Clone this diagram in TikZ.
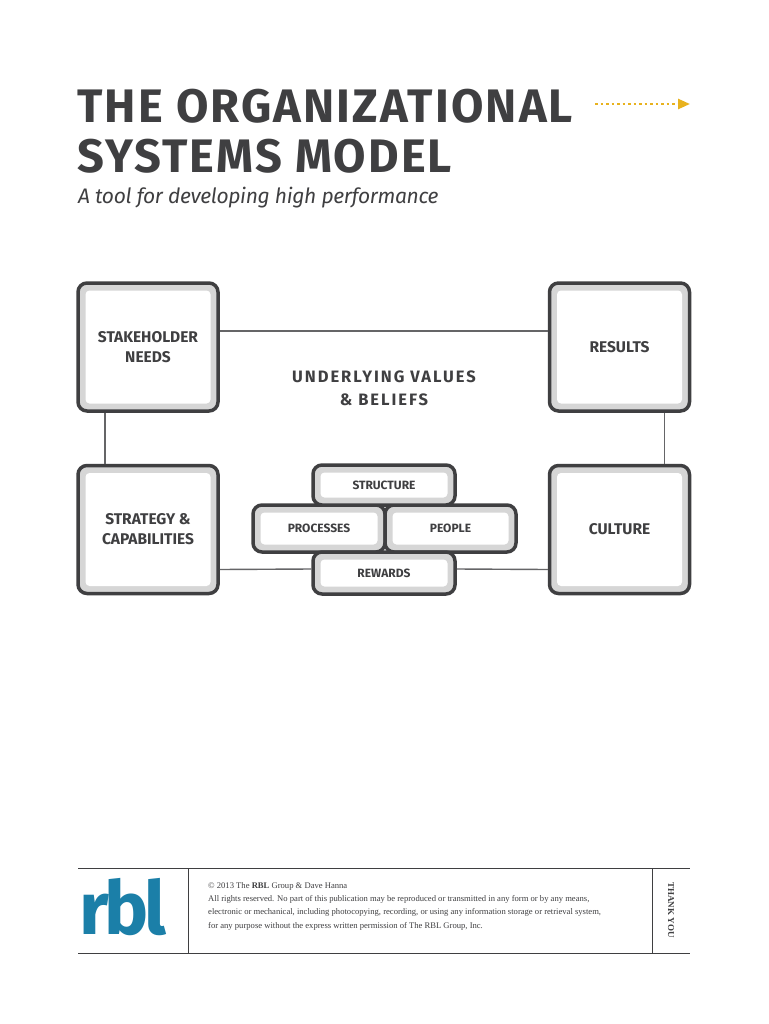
\documentclass[tikz,border=0pt]{standalone}
\usepackage{fontspec}
\setmainfont{Fira Sans}
\newfontfamily\serifft{Liberation Serif}
\usetikzlibrary{arrows.meta}
\definecolor{dk}{HTML}{3F3F41}
\definecolor{band}{HTML}{D6D6D6}
\definecolor{gold}{HTML}{E8B21E}
\definecolor{rblblue}{HTML}{1B7FA8}
\tikzset{
  outerbox/.style={draw=dk, line width=3.5pt, fill=band, rounded corners=9pt, inner sep=0pt},
  innerbox/.style={fill=white, rounded corners=4pt, inner sep=0pt, align=center, text=dk,
    font=\bfseries\fontsize{15.5}{20}\selectfont},
  smallinner/.style={innerbox, font=\bfseries\fontsize{12}{14}\selectfont},
  conn/.style={draw=dk!80, line width=1.4pt},
}
\newcommand\mybox[7]{% name, x, y, w, h, style, text
  \node[outerbox, minimum width=#4, minimum height=#5] (#1) at (#2,#3) {};
  \node[#6, minimum width=#4-15, minimum height=#5-15] (#1in) at (#2,#3) {#7};
}
\begin{document}
\begin{tikzpicture}[x=1pt,y=-1pt]
\useasboundingbox (0,0) rectangle (768,1024);
\fill[white] (0,0) rectangle (768,1024);
% title
\node[anchor=base west, inner sep=0pt, text=dk] (t1) at (77,123) {\fontsize{47}{47}\selectfont\bfseries\addfontfeatures{LetterSpace=4.5}THE ORGANIZATIONAL};
\node[anchor=base west, inner sep=0pt, text=dk] (t2) at (77,173) {\fontsize{47}{47}\selectfont\bfseries\addfontfeatures{LetterSpace=4.5}SYSTEMS MODEL};
\node[anchor=base west, inner sep=0pt, text=dk] (sub) at (78,204) {\fontsize{21}{21}\selectfont\itshape\addfontfeatures{LetterSpace=-1.5}A tool for developing high performance};
\coordinate (a1) at (595,104);
\coordinate (a2) at (690,104);
\draw[gold, line width=2.5pt, dash pattern=on 2.5pt off 3pt, -{Triangle[length=12pt,width=10pt]}] (a1) -- (a2);
% boxes
\mybox{sn}{148}{347}{140}{128}{innerbox}{STAKEHOLDER\\NEEDS}
\mybox{res}{619.5}{347}{140}{128}{innerbox}{RESULTS}
\mybox{str}{148}{529.5}{140}{128}{innerbox}{STRATEGY \&\\CAPABILITIES}
\mybox{cul}{619.5}{529.5}{140}{128}{innerbox}{CULTURE}
\draw[conn] ([yshift=16]sn.east) -- ([yshift=16]res.west);
\draw[conn] ([xshift=-43]sn.south) -- ([xshift=-43]str.north);
\draw[conn] ([xshift=45]res.south) -- ([xshift=45]cul.north);
\node[text=dk, align=center, font=\bfseries\fontsize{16.5}{23}\selectfont\addfontfeatures{LetterSpace=12}] (uv) at (384,388) {UNDERLYING VALUES\\\& BELIEFS};
\mybox{proc}{319}{528.5}{132}{47}{smallinner}{PROCESSES}
\mybox{peop}{450.5}{528.5}{131}{47}{smallinner}{PEOPLE}
\mybox{stru}{384}{485}{142}{40}{smallinner}{STRUCTURE}
\mybox{rew}{384}{573}{142}{42}{smallinner}{REWARDS}
\draw[conn] ([yshift=-40]str.east) -- ([yshift=4]rew.west);
\draw[conn] ([yshift=4]rew.east) -- ([yshift=-40]cul.west);
% footer
\coordinate (f1) at (78,868); \coordinate (f2) at (690,868);
\coordinate (f3) at (78,953); \coordinate (f4) at (690,953);
\draw[dk, line width=0.8pt] (f1) -- (f2);
\draw[dk, line width=0.8pt] (f3) -- (f4);
\draw[dk, line width=0.8pt] (188,868) -- (188,953);
\draw[dk, line width=0.8pt] (652,868) -- (652,953);
\node[text=rblblue, inner sep=0pt] (logo) at (123,907) {\fontsize{74}{74}\selectfont\bfseries\addfontfeatures{LetterSpace=-6}rbl};
\node[anchor=north west, align=left, inner sep=0pt, text=dk, font=\serifft\fontsize{8.6}{13.3}\selectfont] (copy) at (208,882)
{\textcopyright{} 2013 The \textbf{RBL} Group \& Dave Hanna\\
All rights reserved. No part of this publication may be reproduced or transmitted in any form or by any means,\\
electronic or mechanical, including photocopying, recording, or using any information storage or retrieval system,\\
for any purpose without the express written permission of The RBL Group, Inc.};
\node[rotate=-90, text=dk, font=\serifft\bfseries\fontsize{9}{9}\selectfont] (ty) at (671,910) {THANK YOU};
\end{tikzpicture}
\end{document}
